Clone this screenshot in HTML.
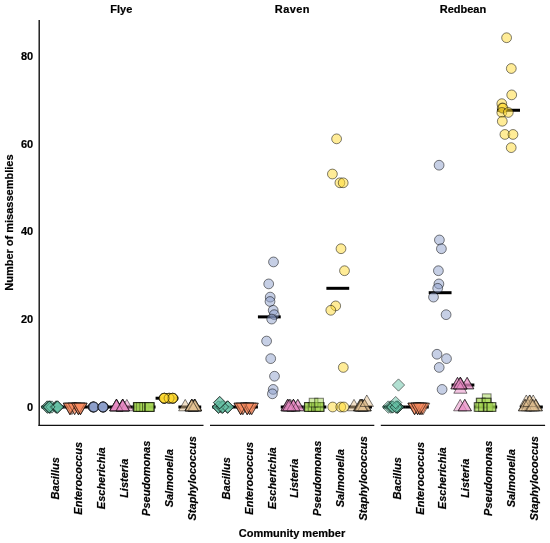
<!DOCTYPE html>
<html><head><meta charset="utf-8"><style>
html,body{margin:0;padding:0;background:#fff;}
svg{display:block;filter:blur(0.3px);}
text{font-family:"Liberation Sans",sans-serif;font-weight:bold;fill:#000;font-kerning:none;stroke:#000;stroke-width:0.2px;}
.yt{font-size:11px;}
.st{font-size:11px;}
.tt{font-size:11px;}
.xt{font-size:11px;font-style:italic;}
</style></head><body>
<svg width="550" height="543" viewBox="0 0 550 543">
<rect width="550" height="543" fill="#fff"/>
<line x1="39.20" y1="20.0" x2="39.20" y2="426.10" stroke="#111" stroke-width="1.4"/>
<line x1="38.50" y1="425.4" x2="203.50" y2="425.4" stroke="#111" stroke-width="1.4"/>
<line x1="210.00" y1="425.4" x2="374.30" y2="425.4" stroke="#111" stroke-width="1.4"/>
<line x1="380.80" y1="425.4" x2="545.10" y2="425.4" stroke="#111" stroke-width="1.4"/>
<text x="33.2" y="411.30" text-anchor="end" class="yt">0</text>
<text x="33.2" y="323.38" text-anchor="end" class="yt">20</text>
<text x="33.2" y="235.46" text-anchor="end" class="yt">40</text>
<text x="33.2" y="147.54" text-anchor="end" class="yt">60</text>
<text x="33.2" y="59.62" text-anchor="end" class="yt">80</text>
<text x="121.35" y="13.2" text-anchor="middle" class="st">Flye</text>
<text x="292.35" y="13.2" text-anchor="middle" class="st" letter-spacing="0.4">Raven</text>
<text x="462.95" y="13.2" text-anchor="middle" class="st">Redbean</text>
<text transform="translate(12.9,222.6) rotate(-90)" text-anchor="middle" class="tt">Number of misassemblies</text>
<text x="292" y="536.7" text-anchor="middle" class="tt">Community member</text>
<text transform="translate(59.09,478.3) rotate(-90)" text-anchor="middle" class="xt">Bacillus</text>
<text transform="translate(81.91,478.3) rotate(-90)" text-anchor="middle" class="xt">Enterococcus</text>
<text transform="translate(104.73,478.3) rotate(-90)" text-anchor="middle" class="xt">Escherichia</text>
<text transform="translate(127.55,478.3) rotate(-90)" text-anchor="middle" class="xt">Listeria</text>
<text transform="translate(150.37,478.3) rotate(-90)" text-anchor="middle" class="xt">Pseudomonas</text>
<text transform="translate(173.19,478.3) rotate(-90)" text-anchor="middle" class="xt">Salmonella</text>
<text transform="translate(196.01,478.3) rotate(-90)" text-anchor="middle" class="xt">Staphylococcus</text>
<text transform="translate(229.89,478.3) rotate(-90)" text-anchor="middle" class="xt">Bacillus</text>
<text transform="translate(252.71,478.3) rotate(-90)" text-anchor="middle" class="xt">Enterococcus</text>
<text transform="translate(275.53,478.3) rotate(-90)" text-anchor="middle" class="xt">Escherichia</text>
<text transform="translate(298.35,478.3) rotate(-90)" text-anchor="middle" class="xt">Listeria</text>
<text transform="translate(321.17,478.3) rotate(-90)" text-anchor="middle" class="xt">Pseudomonas</text>
<text transform="translate(343.99,478.3) rotate(-90)" text-anchor="middle" class="xt">Salmonella</text>
<text transform="translate(366.81,478.3) rotate(-90)" text-anchor="middle" class="xt">Staphylococcus</text>
<text transform="translate(400.69,478.3) rotate(-90)" text-anchor="middle" class="xt">Bacillus</text>
<text transform="translate(423.51,478.3) rotate(-90)" text-anchor="middle" class="xt">Enterococcus</text>
<text transform="translate(446.33,478.3) rotate(-90)" text-anchor="middle" class="xt">Escherichia</text>
<text transform="translate(469.15,478.3) rotate(-90)" text-anchor="middle" class="xt">Listeria</text>
<text transform="translate(491.97,478.3) rotate(-90)" text-anchor="middle" class="xt">Pseudomonas</text>
<text transform="translate(514.79,478.3) rotate(-90)" text-anchor="middle" class="xt">Salmonella</text>
<text transform="translate(537.61,478.3) rotate(-90)" text-anchor="middle" class="xt">Staphylococcus</text>
<line x1="41.48" y1="407.00" x2="64.30" y2="407.00" stroke="#000" stroke-width="3"/>
<line x1="64.30" y1="407.00" x2="87.12" y2="407.00" stroke="#000" stroke-width="3"/>
<line x1="87.12" y1="407.00" x2="109.94" y2="407.00" stroke="#000" stroke-width="3"/>
<line x1="109.94" y1="407.00" x2="132.76" y2="407.00" stroke="#000" stroke-width="3"/>
<line x1="132.76" y1="407.00" x2="155.58" y2="407.00" stroke="#000" stroke-width="3"/>
<line x1="155.58" y1="398.21" x2="178.40" y2="398.21" stroke="#000" stroke-width="3"/>
<line x1="178.40" y1="407.00" x2="201.22" y2="407.00" stroke="#000" stroke-width="3"/>
<line x1="212.28" y1="407.00" x2="235.10" y2="407.00" stroke="#000" stroke-width="3"/>
<line x1="235.10" y1="407.00" x2="257.92" y2="407.00" stroke="#000" stroke-width="3"/>
<line x1="257.92" y1="316.88" x2="280.74" y2="316.88" stroke="#000" stroke-width="3"/>
<line x1="280.74" y1="407.00" x2="303.56" y2="407.00" stroke="#000" stroke-width="3"/>
<line x1="303.56" y1="407.00" x2="326.38" y2="407.00" stroke="#000" stroke-width="3"/>
<line x1="326.38" y1="288.31" x2="349.20" y2="288.31" stroke="#000" stroke-width="3"/>
<line x1="349.20" y1="407.00" x2="372.02" y2="407.00" stroke="#000" stroke-width="3"/>
<line x1="383.08" y1="407.00" x2="405.90" y2="407.00" stroke="#000" stroke-width="3"/>
<line x1="405.90" y1="407.00" x2="428.72" y2="407.00" stroke="#000" stroke-width="3"/>
<line x1="428.72" y1="292.70" x2="451.54" y2="292.70" stroke="#000" stroke-width="3"/>
<line x1="451.54" y1="385.02" x2="474.36" y2="385.02" stroke="#000" stroke-width="3"/>
<line x1="474.36" y1="407.00" x2="497.18" y2="407.00" stroke="#000" stroke-width="3"/>
<line x1="497.18" y1="110.27" x2="520.00" y2="110.27" stroke="#000" stroke-width="3"/>
<line x1="520.00" y1="407.00" x2="542.82" y2="407.00" stroke="#000" stroke-width="3"/>
<polygon points="47.09,400.86 53.23,407.00 47.09,413.14 40.95,407.00" fill="#66C2A5" fill-opacity="0.5" stroke="#000" stroke-opacity="0.5" stroke-width="1.0"/>
<polygon points="47.59,400.86 53.73,407.00 47.59,413.14 41.45,407.00" fill="#66C2A5" fill-opacity="0.5" stroke="#000" stroke-opacity="0.5" stroke-width="1.0"/>
<polygon points="49.29,400.86 55.43,407.00 49.29,413.14 43.15,407.00" fill="#66C2A5" fill-opacity="0.5" stroke="#000" stroke-opacity="0.5" stroke-width="1.0"/>
<polygon points="49.69,400.86 55.83,407.00 49.69,413.14 43.55,407.00" fill="#66C2A5" fill-opacity="0.5" stroke="#000" stroke-opacity="0.5" stroke-width="1.0"/>
<polygon points="50.19,400.86 56.33,407.00 50.19,413.14 44.05,407.00" fill="#66C2A5" fill-opacity="0.5" stroke="#000" stroke-opacity="0.5" stroke-width="1.0"/>
<polygon points="51.99,400.86 58.13,407.00 51.99,413.14 45.85,407.00" fill="#66C2A5" fill-opacity="0.5" stroke="#000" stroke-opacity="0.5" stroke-width="1.0"/>
<polygon points="55.89,400.86 62.03,407.00 55.89,413.14 49.75,407.00" fill="#66C2A5" fill-opacity="0.5" stroke="#000" stroke-opacity="0.5" stroke-width="1.0"/>
<polygon points="56.49,400.86 62.63,407.00 56.49,413.14 50.35,407.00" fill="#66C2A5" fill-opacity="0.5" stroke="#000" stroke-opacity="0.5" stroke-width="1.0"/>
<polygon points="56.99,400.86 63.13,407.00 56.99,413.14 50.85,407.00" fill="#66C2A5" fill-opacity="0.5" stroke="#000" stroke-opacity="0.5" stroke-width="1.0"/>
<polygon points="57.79,400.86 63.93,407.00 57.79,413.14 51.65,407.00" fill="#66C2A5" fill-opacity="0.5" stroke="#000" stroke-opacity="0.5" stroke-width="1.0"/>
<polygon points="57.49,400.86 63.63,407.00 57.49,413.14 51.35,407.00" fill="#66C2A5" fill-opacity="0.5" stroke="#000" stroke-opacity="0.5" stroke-width="1.0"/>
<polygon points="48.99,400.86 55.13,407.00 48.99,413.14 42.85,407.00" fill="#66C2A5" fill-opacity="0.5" stroke="#000" stroke-opacity="0.5" stroke-width="1.0"/>
<polygon points="69.81,414.62 76.41,403.19 63.21,403.19" fill="#FC8D62" fill-opacity="0.5" stroke="#000" stroke-opacity="0.5" stroke-width="1.0"/>
<polygon points="70.11,414.62 76.71,403.19 63.51,403.19" fill="#FC8D62" fill-opacity="0.5" stroke="#000" stroke-opacity="0.5" stroke-width="1.0"/>
<polygon points="71.91,414.62 78.51,403.19 65.31,403.19" fill="#FC8D62" fill-opacity="0.5" stroke="#000" stroke-opacity="0.5" stroke-width="1.0"/>
<polygon points="74.51,414.62 81.11,403.19 67.91,403.19" fill="#FC8D62" fill-opacity="0.5" stroke="#000" stroke-opacity="0.5" stroke-width="1.0"/>
<polygon points="74.71,414.62 81.31,403.19 68.11,403.19" fill="#FC8D62" fill-opacity="0.5" stroke="#000" stroke-opacity="0.5" stroke-width="1.0"/>
<polygon points="78.21,414.62 84.81,403.19 71.61,403.19" fill="#FC8D62" fill-opacity="0.5" stroke="#000" stroke-opacity="0.5" stroke-width="1.0"/>
<polygon points="78.51,414.62 85.11,403.19 71.91,403.19" fill="#FC8D62" fill-opacity="0.5" stroke="#000" stroke-opacity="0.5" stroke-width="1.0"/>
<polygon points="80.31,414.62 86.91,403.19 73.71,403.19" fill="#FC8D62" fill-opacity="0.5" stroke="#000" stroke-opacity="0.5" stroke-width="1.0"/>
<polygon points="80.61,414.62 87.21,403.19 74.01,403.19" fill="#FC8D62" fill-opacity="0.5" stroke="#000" stroke-opacity="0.5" stroke-width="1.0"/>
<polygon points="70.01,414.62 76.61,403.19 63.41,403.19" fill="#FC8D62" fill-opacity="0.5" stroke="#000" stroke-opacity="0.5" stroke-width="1.0"/>
<polygon points="78.41,414.62 85.01,403.19 71.81,403.19" fill="#FC8D62" fill-opacity="0.5" stroke="#000" stroke-opacity="0.5" stroke-width="1.0"/>
<polygon points="80.41,414.62 87.01,403.19 73.81,403.19" fill="#FC8D62" fill-opacity="0.5" stroke="#000" stroke-opacity="0.5" stroke-width="1.0"/>
<circle cx="93.03" cy="407.00" r="4.90" fill="#8DA0CB" fill-opacity="0.5" stroke="#000" stroke-opacity="0.5" stroke-width="1.0"/>
<circle cx="93.33" cy="407.00" r="4.90" fill="#8DA0CB" fill-opacity="0.5" stroke="#000" stroke-opacity="0.5" stroke-width="1.0"/>
<circle cx="93.53" cy="407.00" r="4.90" fill="#8DA0CB" fill-opacity="0.5" stroke="#000" stroke-opacity="0.5" stroke-width="1.0"/>
<circle cx="93.73" cy="407.00" r="4.90" fill="#8DA0CB" fill-opacity="0.5" stroke="#000" stroke-opacity="0.5" stroke-width="1.0"/>
<circle cx="93.23" cy="407.00" r="4.90" fill="#8DA0CB" fill-opacity="0.5" stroke="#000" stroke-opacity="0.5" stroke-width="1.0"/>
<circle cx="93.93" cy="407.00" r="4.90" fill="#8DA0CB" fill-opacity="0.5" stroke="#000" stroke-opacity="0.5" stroke-width="1.0"/>
<circle cx="103.23" cy="407.00" r="4.90" fill="#8DA0CB" fill-opacity="0.5" stroke="#000" stroke-opacity="0.5" stroke-width="1.0"/>
<circle cx="103.03" cy="407.00" r="4.90" fill="#8DA0CB" fill-opacity="0.5" stroke="#000" stroke-opacity="0.5" stroke-width="1.0"/>
<circle cx="102.83" cy="407.00" r="4.90" fill="#8DA0CB" fill-opacity="0.5" stroke="#000" stroke-opacity="0.5" stroke-width="1.0"/>
<circle cx="103.43" cy="407.00" r="4.90" fill="#8DA0CB" fill-opacity="0.5" stroke="#000" stroke-opacity="0.5" stroke-width="1.0"/>
<circle cx="103.13" cy="407.00" r="4.90" fill="#8DA0CB" fill-opacity="0.5" stroke="#000" stroke-opacity="0.5" stroke-width="1.0"/>
<circle cx="102.93" cy="407.00" r="4.90" fill="#8DA0CB" fill-opacity="0.5" stroke="#000" stroke-opacity="0.5" stroke-width="1.0"/>
<polygon points="116.25,399.38 122.85,410.81 109.65,410.81" fill="#E78AC3" fill-opacity="0.5" stroke="#000" stroke-opacity="0.5" stroke-width="1.0"/>
<polygon points="116.55,399.38 123.15,410.81 109.95,410.81" fill="#E78AC3" fill-opacity="0.5" stroke="#000" stroke-opacity="0.5" stroke-width="1.0"/>
<polygon points="116.75,399.38 123.35,410.81 110.15,410.81" fill="#E78AC3" fill-opacity="0.5" stroke="#000" stroke-opacity="0.5" stroke-width="1.0"/>
<polygon points="122.55,399.38 129.15,410.81 115.95,410.81" fill="#E78AC3" fill-opacity="0.5" stroke="#000" stroke-opacity="0.5" stroke-width="1.0"/>
<polygon points="122.75,399.38 129.35,410.81 116.15,410.81" fill="#E78AC3" fill-opacity="0.5" stroke="#000" stroke-opacity="0.5" stroke-width="1.0"/>
<polygon points="122.95,399.38 129.55,410.81 116.35,410.81" fill="#E78AC3" fill-opacity="0.5" stroke="#000" stroke-opacity="0.5" stroke-width="1.0"/>
<polygon points="122.35,399.38 128.95,410.81 115.75,410.81" fill="#E78AC3" fill-opacity="0.5" stroke="#000" stroke-opacity="0.5" stroke-width="1.0"/>
<polygon points="126.85,399.38 133.45,410.81 120.25,410.81" fill="#E78AC3" fill-opacity="0.5" stroke="#000" stroke-opacity="0.5" stroke-width="1.0"/>
<polygon points="116.45,399.38 123.05,410.81 109.85,410.81" fill="#E78AC3" fill-opacity="0.5" stroke="#000" stroke-opacity="0.5" stroke-width="1.0"/>
<polygon points="122.65,399.38 129.25,410.81 116.05,410.81" fill="#E78AC3" fill-opacity="0.5" stroke="#000" stroke-opacity="0.5" stroke-width="1.0"/>
<polygon points="116.35,399.38 122.95,410.81 109.75,410.81" fill="#E78AC3" fill-opacity="0.5" stroke="#000" stroke-opacity="0.5" stroke-width="1.0"/>
<polygon points="122.85,399.38 129.45,410.81 116.25,410.81" fill="#E78AC3" fill-opacity="0.5" stroke="#000" stroke-opacity="0.5" stroke-width="1.0"/>
<rect x="133.33" y="402.66" width="8.69" height="8.69" fill="#A6D854" fill-opacity="0.5" stroke="#000" stroke-opacity="0.5" stroke-width="1.0"/>
<rect x="133.63" y="402.66" width="8.69" height="8.69" fill="#A6D854" fill-opacity="0.5" stroke="#000" stroke-opacity="0.5" stroke-width="1.0"/>
<rect x="134.03" y="402.66" width="8.69" height="8.69" fill="#A6D854" fill-opacity="0.5" stroke="#000" stroke-opacity="0.5" stroke-width="1.0"/>
<rect x="136.33" y="402.66" width="8.69" height="8.69" fill="#A6D854" fill-opacity="0.5" stroke="#000" stroke-opacity="0.5" stroke-width="1.0"/>
<rect x="136.63" y="402.66" width="8.69" height="8.69" fill="#A6D854" fill-opacity="0.5" stroke="#000" stroke-opacity="0.5" stroke-width="1.0"/>
<rect x="139.33" y="402.66" width="8.69" height="8.69" fill="#A6D854" fill-opacity="0.5" stroke="#000" stroke-opacity="0.5" stroke-width="1.0"/>
<rect x="140.03" y="402.66" width="8.69" height="8.69" fill="#A6D854" fill-opacity="0.5" stroke="#000" stroke-opacity="0.5" stroke-width="1.0"/>
<rect x="145.63" y="402.66" width="8.69" height="8.69" fill="#A6D854" fill-opacity="0.5" stroke="#000" stroke-opacity="0.5" stroke-width="1.0"/>
<rect x="145.03" y="402.66" width="8.69" height="8.69" fill="#A6D854" fill-opacity="0.5" stroke="#000" stroke-opacity="0.5" stroke-width="1.0"/>
<rect x="144.73" y="402.66" width="8.69" height="8.69" fill="#A6D854" fill-opacity="0.5" stroke="#000" stroke-opacity="0.5" stroke-width="1.0"/>
<rect x="145.33" y="402.66" width="8.69" height="8.69" fill="#A6D854" fill-opacity="0.5" stroke="#000" stroke-opacity="0.5" stroke-width="1.0"/>
<rect x="133.83" y="402.66" width="8.69" height="8.69" fill="#A6D854" fill-opacity="0.5" stroke="#000" stroke-opacity="0.5" stroke-width="1.0"/>
<circle cx="164.19" cy="398.21" r="4.90" fill="#FFD92F" fill-opacity="0.5" stroke="#000" stroke-opacity="0.5" stroke-width="1.0"/>
<circle cx="164.49" cy="398.21" r="4.90" fill="#FFD92F" fill-opacity="0.5" stroke="#000" stroke-opacity="0.5" stroke-width="1.0"/>
<circle cx="164.29" cy="398.21" r="4.90" fill="#FFD92F" fill-opacity="0.5" stroke="#000" stroke-opacity="0.5" stroke-width="1.0"/>
<circle cx="169.29" cy="398.21" r="4.90" fill="#FFD92F" fill-opacity="0.5" stroke="#000" stroke-opacity="0.5" stroke-width="1.0"/>
<circle cx="168.99" cy="398.21" r="4.90" fill="#FFD92F" fill-opacity="0.5" stroke="#000" stroke-opacity="0.5" stroke-width="1.0"/>
<circle cx="172.89" cy="398.21" r="4.90" fill="#FFD92F" fill-opacity="0.5" stroke="#000" stroke-opacity="0.5" stroke-width="1.0"/>
<circle cx="172.59" cy="398.21" r="4.90" fill="#FFD92F" fill-opacity="0.5" stroke="#000" stroke-opacity="0.5" stroke-width="1.0"/>
<circle cx="172.79" cy="398.21" r="4.90" fill="#FFD92F" fill-opacity="0.5" stroke="#000" stroke-opacity="0.5" stroke-width="1.0"/>
<circle cx="164.39" cy="398.21" r="4.90" fill="#FFD92F" fill-opacity="0.5" stroke="#000" stroke-opacity="0.5" stroke-width="1.0"/>
<circle cx="169.09" cy="398.21" r="4.90" fill="#FFD92F" fill-opacity="0.5" stroke="#000" stroke-opacity="0.5" stroke-width="1.0"/>
<circle cx="172.69" cy="398.21" r="4.90" fill="#FFD92F" fill-opacity="0.5" stroke="#000" stroke-opacity="0.5" stroke-width="1.0"/>
<circle cx="164.09" cy="398.21" r="4.90" fill="#FFD92F" fill-opacity="0.5" stroke="#000" stroke-opacity="0.5" stroke-width="1.0"/>
<polygon points="185.21,399.38 191.81,410.81 178.61,410.81" fill="#E5C494" fill-opacity="0.5" stroke="#000" stroke-opacity="0.5" stroke-width="1.0"/>
<polygon points="191.71,399.38 198.31,410.81 185.11,410.81" fill="#E5C494" fill-opacity="0.5" stroke="#000" stroke-opacity="0.5" stroke-width="1.0"/>
<polygon points="192.01,399.38 198.61,410.81 185.41,410.81" fill="#E5C494" fill-opacity="0.5" stroke="#000" stroke-opacity="0.5" stroke-width="1.0"/>
<polygon points="194.21,399.38 200.81,410.81 187.61,410.81" fill="#E5C494" fill-opacity="0.5" stroke="#000" stroke-opacity="0.5" stroke-width="1.0"/>
<polygon points="195.11,399.38 201.71,410.81 188.51,410.81" fill="#E5C494" fill-opacity="0.5" stroke="#000" stroke-opacity="0.5" stroke-width="1.0"/>
<polygon points="194.61,399.38 201.21,410.81 188.01,410.81" fill="#E5C494" fill-opacity="0.5" stroke="#000" stroke-opacity="0.5" stroke-width="1.0"/>
<polygon points="194.81,399.38 201.41,410.81 188.21,410.81" fill="#E5C494" fill-opacity="0.5" stroke="#000" stroke-opacity="0.5" stroke-width="1.0"/>
<polygon points="191.51,399.38 198.11,410.81 184.91,410.81" fill="#E5C494" fill-opacity="0.5" stroke="#000" stroke-opacity="0.5" stroke-width="1.0"/>
<polygon points="191.81,399.38 198.41,410.81 185.21,410.81" fill="#E5C494" fill-opacity="0.5" stroke="#000" stroke-opacity="0.5" stroke-width="1.0"/>
<polygon points="194.41,399.38 201.01,410.81 187.81,410.81" fill="#E5C494" fill-opacity="0.5" stroke="#000" stroke-opacity="0.5" stroke-width="1.0"/>
<polygon points="195.01,399.38 201.61,410.81 188.41,410.81" fill="#E5C494" fill-opacity="0.5" stroke="#000" stroke-opacity="0.5" stroke-width="1.0"/>
<polygon points="191.91,399.38 198.51,410.81 185.31,410.81" fill="#E5C494" fill-opacity="0.5" stroke="#000" stroke-opacity="0.5" stroke-width="1.0"/>
<polygon points="218.29,400.86 224.43,407.00 218.29,413.14 212.15,407.00" fill="#66C2A5" fill-opacity="0.5" stroke="#000" stroke-opacity="0.5" stroke-width="1.0"/>
<polygon points="218.69,400.86 224.83,407.00 218.69,413.14 212.55,407.00" fill="#66C2A5" fill-opacity="0.5" stroke="#000" stroke-opacity="0.5" stroke-width="1.0"/>
<polygon points="221.19,400.86 227.33,407.00 221.19,413.14 215.05,407.00" fill="#66C2A5" fill-opacity="0.5" stroke="#000" stroke-opacity="0.5" stroke-width="1.0"/>
<polygon points="222.69,400.86 228.83,407.00 222.69,413.14 216.55,407.00" fill="#66C2A5" fill-opacity="0.5" stroke="#000" stroke-opacity="0.5" stroke-width="1.0"/>
<polygon points="222.89,400.86 229.03,407.00 222.89,413.14 216.75,407.00" fill="#66C2A5" fill-opacity="0.5" stroke="#000" stroke-opacity="0.5" stroke-width="1.0"/>
<polygon points="227.59,400.86 233.73,407.00 227.59,413.14 221.45,407.00" fill="#66C2A5" fill-opacity="0.5" stroke="#000" stroke-opacity="0.5" stroke-width="1.0"/>
<polygon points="227.29,400.86 233.43,407.00 227.29,413.14 221.15,407.00" fill="#66C2A5" fill-opacity="0.5" stroke="#000" stroke-opacity="0.5" stroke-width="1.0"/>
<polygon points="227.89,400.86 234.03,407.00 227.89,413.14 221.75,407.00" fill="#66C2A5" fill-opacity="0.5" stroke="#000" stroke-opacity="0.5" stroke-width="1.0"/>
<polygon points="218.49,400.86 224.63,407.00 218.49,413.14 212.35,407.00" fill="#66C2A5" fill-opacity="0.5" stroke="#000" stroke-opacity="0.5" stroke-width="1.0"/>
<polygon points="222.49,400.86 228.63,407.00 222.49,413.14 216.35,407.00" fill="#66C2A5" fill-opacity="0.5" stroke="#000" stroke-opacity="0.5" stroke-width="1.0"/>
<polygon points="219.49,396.46 225.63,402.60 219.49,408.75 213.35,402.60" fill="#66C2A5" fill-opacity="0.5" stroke="#000" stroke-opacity="0.5" stroke-width="1.0"/>
<polygon points="219.89,396.46 226.03,402.60 219.89,408.75 213.75,402.60" fill="#66C2A5" fill-opacity="0.5" stroke="#000" stroke-opacity="0.5" stroke-width="1.0"/>
<polygon points="240.51,414.62 247.11,403.19 233.91,403.19" fill="#FC8D62" fill-opacity="0.5" stroke="#000" stroke-opacity="0.5" stroke-width="1.0"/>
<polygon points="240.81,414.62 247.41,403.19 234.21,403.19" fill="#FC8D62" fill-opacity="0.5" stroke="#000" stroke-opacity="0.5" stroke-width="1.0"/>
<polygon points="242.71,414.62 249.31,403.19 236.11,403.19" fill="#FC8D62" fill-opacity="0.5" stroke="#000" stroke-opacity="0.5" stroke-width="1.0"/>
<polygon points="243.01,414.62 249.61,403.19 236.41,403.19" fill="#FC8D62" fill-opacity="0.5" stroke="#000" stroke-opacity="0.5" stroke-width="1.0"/>
<polygon points="247.11,414.62 253.71,403.19 240.51,403.19" fill="#FC8D62" fill-opacity="0.5" stroke="#000" stroke-opacity="0.5" stroke-width="1.0"/>
<polygon points="247.31,414.62 253.91,403.19 240.71,403.19" fill="#FC8D62" fill-opacity="0.5" stroke="#000" stroke-opacity="0.5" stroke-width="1.0"/>
<polygon points="249.61,414.62 256.21,403.19 243.01,403.19" fill="#FC8D62" fill-opacity="0.5" stroke="#000" stroke-opacity="0.5" stroke-width="1.0"/>
<polygon points="249.81,414.62 256.41,403.19 243.21,403.19" fill="#FC8D62" fill-opacity="0.5" stroke="#000" stroke-opacity="0.5" stroke-width="1.0"/>
<polygon points="251.81,414.62 258.41,403.19 245.21,403.19" fill="#FC8D62" fill-opacity="0.5" stroke="#000" stroke-opacity="0.5" stroke-width="1.0"/>
<polygon points="251.51,414.62 258.11,403.19 244.91,403.19" fill="#FC8D62" fill-opacity="0.5" stroke="#000" stroke-opacity="0.5" stroke-width="1.0"/>
<polygon points="240.71,414.62 247.31,403.19 234.11,403.19" fill="#FC8D62" fill-opacity="0.5" stroke="#000" stroke-opacity="0.5" stroke-width="1.0"/>
<polygon points="247.21,414.62 253.81,403.19 240.61,403.19" fill="#FC8D62" fill-opacity="0.5" stroke="#000" stroke-opacity="0.5" stroke-width="1.0"/>
<circle cx="273.50" cy="261.93" r="4.90" fill="#8DA0CB" fill-opacity="0.5" stroke="#000" stroke-opacity="0.5" stroke-width="1.0"/>
<circle cx="268.70" cy="283.91" r="4.90" fill="#8DA0CB" fill-opacity="0.5" stroke="#000" stroke-opacity="0.5" stroke-width="1.0"/>
<circle cx="270.20" cy="297.10" r="4.90" fill="#8DA0CB" fill-opacity="0.5" stroke="#000" stroke-opacity="0.5" stroke-width="1.0"/>
<circle cx="270.00" cy="301.50" r="4.90" fill="#8DA0CB" fill-opacity="0.5" stroke="#000" stroke-opacity="0.5" stroke-width="1.0"/>
<circle cx="273.20" cy="310.29" r="4.90" fill="#8DA0CB" fill-opacity="0.5" stroke="#000" stroke-opacity="0.5" stroke-width="1.0"/>
<circle cx="274.30" cy="314.68" r="4.90" fill="#8DA0CB" fill-opacity="0.5" stroke="#000" stroke-opacity="0.5" stroke-width="1.0"/>
<circle cx="271.70" cy="319.08" r="4.90" fill="#8DA0CB" fill-opacity="0.5" stroke="#000" stroke-opacity="0.5" stroke-width="1.0"/>
<circle cx="266.60" cy="341.06" r="4.90" fill="#8DA0CB" fill-opacity="0.5" stroke="#000" stroke-opacity="0.5" stroke-width="1.0"/>
<circle cx="270.70" cy="358.64" r="4.90" fill="#8DA0CB" fill-opacity="0.5" stroke="#000" stroke-opacity="0.5" stroke-width="1.0"/>
<circle cx="274.50" cy="376.23" r="4.90" fill="#8DA0CB" fill-opacity="0.5" stroke="#000" stroke-opacity="0.5" stroke-width="1.0"/>
<circle cx="273.20" cy="389.42" r="4.90" fill="#8DA0CB" fill-opacity="0.5" stroke="#000" stroke-opacity="0.5" stroke-width="1.0"/>
<circle cx="272.40" cy="393.81" r="4.90" fill="#8DA0CB" fill-opacity="0.5" stroke="#000" stroke-opacity="0.5" stroke-width="1.0"/>
<polygon points="287.45,399.38 294.05,410.81 280.85,410.81" fill="#E78AC3" fill-opacity="0.5" stroke="#000" stroke-opacity="0.5" stroke-width="1.0"/>
<polygon points="287.95,399.38 294.55,410.81 281.35,410.81" fill="#E78AC3" fill-opacity="0.5" stroke="#000" stroke-opacity="0.5" stroke-width="1.0"/>
<polygon points="289.15,399.38 295.75,410.81 282.55,410.81" fill="#E78AC3" fill-opacity="0.5" stroke="#000" stroke-opacity="0.5" stroke-width="1.0"/>
<polygon points="290.65,399.38 297.25,410.81 284.05,410.81" fill="#E78AC3" fill-opacity="0.5" stroke="#000" stroke-opacity="0.5" stroke-width="1.0"/>
<polygon points="293.45,399.38 300.05,410.81 286.85,410.81" fill="#E78AC3" fill-opacity="0.5" stroke="#000" stroke-opacity="0.5" stroke-width="1.0"/>
<polygon points="293.55,399.38 300.15,410.81 286.95,410.81" fill="#E78AC3" fill-opacity="0.5" stroke="#000" stroke-opacity="0.5" stroke-width="1.0"/>
<polygon points="293.35,399.38 299.95,410.81 286.75,410.81" fill="#E78AC3" fill-opacity="0.5" stroke="#000" stroke-opacity="0.5" stroke-width="1.0"/>
<polygon points="297.95,399.38 304.55,410.81 291.35,410.81" fill="#E78AC3" fill-opacity="0.5" stroke="#000" stroke-opacity="0.5" stroke-width="1.0"/>
<polygon points="297.65,399.38 304.25,410.81 291.05,410.81" fill="#E78AC3" fill-opacity="0.5" stroke="#000" stroke-opacity="0.5" stroke-width="1.0"/>
<polygon points="287.65,399.38 294.25,410.81 281.05,410.81" fill="#E78AC3" fill-opacity="0.5" stroke="#000" stroke-opacity="0.5" stroke-width="1.0"/>
<polygon points="293.45,399.38 300.05,410.81 286.85,410.81" fill="#E78AC3" fill-opacity="0.5" stroke="#000" stroke-opacity="0.5" stroke-width="1.0"/>
<polygon points="289.35,399.38 295.95,410.81 282.75,410.81" fill="#E78AC3" fill-opacity="0.5" stroke="#000" stroke-opacity="0.5" stroke-width="1.0"/>
<rect x="304.43" y="402.66" width="8.69" height="8.69" fill="#A6D854" fill-opacity="0.5" stroke="#000" stroke-opacity="0.5" stroke-width="1.0"/>
<rect x="304.73" y="402.66" width="8.69" height="8.69" fill="#A6D854" fill-opacity="0.5" stroke="#000" stroke-opacity="0.5" stroke-width="1.0"/>
<rect x="308.13" y="402.66" width="8.69" height="8.69" fill="#A6D854" fill-opacity="0.5" stroke="#000" stroke-opacity="0.5" stroke-width="1.0"/>
<rect x="308.43" y="402.66" width="8.69" height="8.69" fill="#A6D854" fill-opacity="0.5" stroke="#000" stroke-opacity="0.5" stroke-width="1.0"/>
<rect x="311.83" y="402.66" width="8.69" height="8.69" fill="#A6D854" fill-opacity="0.5" stroke="#000" stroke-opacity="0.5" stroke-width="1.0"/>
<rect x="315.33" y="402.66" width="8.69" height="8.69" fill="#A6D854" fill-opacity="0.5" stroke="#000" stroke-opacity="0.5" stroke-width="1.0"/>
<rect x="315.03" y="402.66" width="8.69" height="8.69" fill="#A6D854" fill-opacity="0.5" stroke="#000" stroke-opacity="0.5" stroke-width="1.0"/>
<rect x="304.63" y="402.66" width="8.69" height="8.69" fill="#A6D854" fill-opacity="0.5" stroke="#000" stroke-opacity="0.5" stroke-width="1.0"/>
<rect x="311.63" y="402.66" width="8.69" height="8.69" fill="#A6D854" fill-opacity="0.5" stroke="#000" stroke-opacity="0.5" stroke-width="1.0"/>
<rect x="315.13" y="402.66" width="8.69" height="8.69" fill="#A6D854" fill-opacity="0.5" stroke="#000" stroke-opacity="0.5" stroke-width="1.0"/>
<rect x="309.23" y="398.26" width="8.69" height="8.69" fill="#A6D854" fill-opacity="0.5" stroke="#000" stroke-opacity="0.5" stroke-width="1.0"/>
<rect x="314.73" y="398.26" width="8.69" height="8.69" fill="#A6D854" fill-opacity="0.5" stroke="#000" stroke-opacity="0.5" stroke-width="1.0"/>
<circle cx="336.60" cy="138.84" r="4.90" fill="#FFD92F" fill-opacity="0.5" stroke="#000" stroke-opacity="0.5" stroke-width="1.0"/>
<circle cx="332.40" cy="174.01" r="4.90" fill="#FFD92F" fill-opacity="0.5" stroke="#000" stroke-opacity="0.5" stroke-width="1.0"/>
<circle cx="339.90" cy="182.80" r="4.90" fill="#FFD92F" fill-opacity="0.5" stroke="#000" stroke-opacity="0.5" stroke-width="1.0"/>
<circle cx="343.20" cy="182.80" r="4.90" fill="#FFD92F" fill-opacity="0.5" stroke="#000" stroke-opacity="0.5" stroke-width="1.0"/>
<circle cx="341.00" cy="248.74" r="4.90" fill="#FFD92F" fill-opacity="0.5" stroke="#000" stroke-opacity="0.5" stroke-width="1.0"/>
<circle cx="344.50" cy="270.72" r="4.90" fill="#FFD92F" fill-opacity="0.5" stroke="#000" stroke-opacity="0.5" stroke-width="1.0"/>
<circle cx="335.70" cy="305.89" r="4.90" fill="#FFD92F" fill-opacity="0.5" stroke="#000" stroke-opacity="0.5" stroke-width="1.0"/>
<circle cx="330.80" cy="310.29" r="4.90" fill="#FFD92F" fill-opacity="0.5" stroke="#000" stroke-opacity="0.5" stroke-width="1.0"/>
<circle cx="343.30" cy="367.44" r="4.90" fill="#FFD92F" fill-opacity="0.5" stroke="#000" stroke-opacity="0.5" stroke-width="1.0"/>
<circle cx="332.70" cy="407.00" r="4.90" fill="#FFD92F" fill-opacity="0.5" stroke="#000" stroke-opacity="0.5" stroke-width="1.0"/>
<circle cx="340.80" cy="407.00" r="4.90" fill="#FFD92F" fill-opacity="0.5" stroke="#000" stroke-opacity="0.5" stroke-width="1.0"/>
<circle cx="343.80" cy="407.00" r="4.90" fill="#FFD92F" fill-opacity="0.5" stroke="#000" stroke-opacity="0.5" stroke-width="1.0"/>
<polygon points="354.01,399.38 360.61,410.81 347.41,410.81" fill="#E5C494" fill-opacity="0.5" stroke="#000" stroke-opacity="0.5" stroke-width="1.0"/>
<polygon points="360.01,399.38 366.61,410.81 353.41,410.81" fill="#E5C494" fill-opacity="0.5" stroke="#000" stroke-opacity="0.5" stroke-width="1.0"/>
<polygon points="360.21,399.38 366.81,410.81 353.61,410.81" fill="#E5C494" fill-opacity="0.5" stroke="#000" stroke-opacity="0.5" stroke-width="1.0"/>
<polygon points="362.31,399.38 368.91,410.81 355.71,410.81" fill="#E5C494" fill-opacity="0.5" stroke="#000" stroke-opacity="0.5" stroke-width="1.0"/>
<polygon points="362.51,399.38 369.11,410.81 355.91,410.81" fill="#E5C494" fill-opacity="0.5" stroke="#000" stroke-opacity="0.5" stroke-width="1.0"/>
<polygon points="364.51,399.38 371.11,410.81 357.91,410.81" fill="#E5C494" fill-opacity="0.5" stroke="#000" stroke-opacity="0.5" stroke-width="1.0"/>
<polygon points="364.71,399.38 371.31,410.81 358.11,410.81" fill="#E5C494" fill-opacity="0.5" stroke="#000" stroke-opacity="0.5" stroke-width="1.0"/>
<polygon points="361.41,399.38 368.01,410.81 354.81,410.81" fill="#E5C494" fill-opacity="0.5" stroke="#000" stroke-opacity="0.5" stroke-width="1.0"/>
<polygon points="361.61,399.38 368.21,410.81 355.01,410.81" fill="#E5C494" fill-opacity="0.5" stroke="#000" stroke-opacity="0.5" stroke-width="1.0"/>
<polygon points="364.31,399.38 370.91,410.81 357.71,410.81" fill="#E5C494" fill-opacity="0.5" stroke="#000" stroke-opacity="0.5" stroke-width="1.0"/>
<polygon points="360.81,399.38 367.41,410.81 354.21,410.81" fill="#E5C494" fill-opacity="0.5" stroke="#000" stroke-opacity="0.5" stroke-width="1.0"/>
<polygon points="366.81,394.98 373.41,406.41 360.21,406.41" fill="#E5C494" fill-opacity="0.5" stroke="#000" stroke-opacity="0.5" stroke-width="1.0"/>
<polygon points="388.30,400.86 394.44,407.00 388.30,413.14 382.16,407.00" fill="#66C2A5" fill-opacity="0.5" stroke="#000" stroke-opacity="0.5" stroke-width="1.0"/>
<polygon points="390.50,400.86 396.64,407.00 390.50,413.14 384.36,407.00" fill="#66C2A5" fill-opacity="0.5" stroke="#000" stroke-opacity="0.5" stroke-width="1.0"/>
<polygon points="392.00,400.86 398.14,407.00 392.00,413.14 385.86,407.00" fill="#66C2A5" fill-opacity="0.5" stroke="#000" stroke-opacity="0.5" stroke-width="1.0"/>
<polygon points="397.70,400.86 403.84,407.00 397.70,413.14 391.56,407.00" fill="#66C2A5" fill-opacity="0.5" stroke="#000" stroke-opacity="0.5" stroke-width="1.0"/>
<polygon points="397.50,400.86 403.64,407.00 397.50,413.14 391.36,407.00" fill="#66C2A5" fill-opacity="0.5" stroke="#000" stroke-opacity="0.5" stroke-width="1.0"/>
<polygon points="397.00,400.86 403.14,407.00 397.00,413.14 390.86,407.00" fill="#66C2A5" fill-opacity="0.5" stroke="#000" stroke-opacity="0.5" stroke-width="1.0"/>
<polygon points="396.50,400.86 402.64,407.00 396.50,413.14 390.36,407.00" fill="#66C2A5" fill-opacity="0.5" stroke="#000" stroke-opacity="0.5" stroke-width="1.0"/>
<polygon points="397.80,400.86 403.94,407.00 397.80,413.14 391.66,407.00" fill="#66C2A5" fill-opacity="0.5" stroke="#000" stroke-opacity="0.5" stroke-width="1.0"/>
<polygon points="393.00,400.86 399.14,407.00 393.00,413.14 386.86,407.00" fill="#66C2A5" fill-opacity="0.5" stroke="#000" stroke-opacity="0.5" stroke-width="1.0"/>
<polygon points="396.00,400.86 402.14,407.00 396.00,413.14 389.86,407.00" fill="#66C2A5" fill-opacity="0.5" stroke="#000" stroke-opacity="0.5" stroke-width="1.0"/>
<polygon points="395.70,396.46 401.84,402.60 395.70,408.75 389.56,402.60" fill="#66C2A5" fill-opacity="0.5" stroke="#000" stroke-opacity="0.5" stroke-width="1.0"/>
<polygon points="398.50,378.88 404.64,385.02 398.50,391.16 392.36,385.02" fill="#66C2A5" fill-opacity="0.5" stroke="#000" stroke-opacity="0.5" stroke-width="1.0"/>
<polygon points="414.41,414.62 421.01,403.19 407.81,403.19" fill="#FC8D62" fill-opacity="0.5" stroke="#000" stroke-opacity="0.5" stroke-width="1.0"/>
<polygon points="414.71,414.62 421.31,403.19 408.11,403.19" fill="#FC8D62" fill-opacity="0.5" stroke="#000" stroke-opacity="0.5" stroke-width="1.0"/>
<polygon points="417.51,414.62 424.11,403.19 410.91,403.19" fill="#FC8D62" fill-opacity="0.5" stroke="#000" stroke-opacity="0.5" stroke-width="1.0"/>
<polygon points="417.71,414.62 424.31,403.19 411.11,403.19" fill="#FC8D62" fill-opacity="0.5" stroke="#000" stroke-opacity="0.5" stroke-width="1.0"/>
<polygon points="420.01,414.62 426.61,403.19 413.41,403.19" fill="#FC8D62" fill-opacity="0.5" stroke="#000" stroke-opacity="0.5" stroke-width="1.0"/>
<polygon points="419.81,414.62 426.41,403.19 413.21,403.19" fill="#FC8D62" fill-opacity="0.5" stroke="#000" stroke-opacity="0.5" stroke-width="1.0"/>
<polygon points="421.81,414.62 428.41,403.19 415.21,403.19" fill="#FC8D62" fill-opacity="0.5" stroke="#000" stroke-opacity="0.5" stroke-width="1.0"/>
<polygon points="422.01,414.62 428.61,403.19 415.41,403.19" fill="#FC8D62" fill-opacity="0.5" stroke="#000" stroke-opacity="0.5" stroke-width="1.0"/>
<polygon points="423.21,414.62 429.81,403.19 416.61,403.19" fill="#FC8D62" fill-opacity="0.5" stroke="#000" stroke-opacity="0.5" stroke-width="1.0"/>
<polygon points="414.61,414.62 421.21,403.19 408.01,403.19" fill="#FC8D62" fill-opacity="0.5" stroke="#000" stroke-opacity="0.5" stroke-width="1.0"/>
<polygon points="417.61,414.62 424.21,403.19 411.01,403.19" fill="#FC8D62" fill-opacity="0.5" stroke="#000" stroke-opacity="0.5" stroke-width="1.0"/>
<polygon points="419.91,414.62 426.51,403.19 413.31,403.19" fill="#FC8D62" fill-opacity="0.5" stroke="#000" stroke-opacity="0.5" stroke-width="1.0"/>
<circle cx="439.10" cy="165.22" r="4.90" fill="#8DA0CB" fill-opacity="0.5" stroke="#000" stroke-opacity="0.5" stroke-width="1.0"/>
<circle cx="439.40" cy="239.95" r="4.90" fill="#8DA0CB" fill-opacity="0.5" stroke="#000" stroke-opacity="0.5" stroke-width="1.0"/>
<circle cx="441.40" cy="248.74" r="4.90" fill="#8DA0CB" fill-opacity="0.5" stroke="#000" stroke-opacity="0.5" stroke-width="1.0"/>
<circle cx="438.40" cy="270.72" r="4.90" fill="#8DA0CB" fill-opacity="0.5" stroke="#000" stroke-opacity="0.5" stroke-width="1.0"/>
<circle cx="438.90" cy="283.91" r="4.90" fill="#8DA0CB" fill-opacity="0.5" stroke="#000" stroke-opacity="0.5" stroke-width="1.0"/>
<circle cx="437.70" cy="288.31" r="4.90" fill="#8DA0CB" fill-opacity="0.5" stroke="#000" stroke-opacity="0.5" stroke-width="1.0"/>
<circle cx="433.50" cy="297.10" r="4.90" fill="#8DA0CB" fill-opacity="0.5" stroke="#000" stroke-opacity="0.5" stroke-width="1.0"/>
<circle cx="446.10" cy="314.68" r="4.90" fill="#8DA0CB" fill-opacity="0.5" stroke="#000" stroke-opacity="0.5" stroke-width="1.0"/>
<circle cx="437.00" cy="354.25" r="4.90" fill="#8DA0CB" fill-opacity="0.5" stroke="#000" stroke-opacity="0.5" stroke-width="1.0"/>
<circle cx="446.50" cy="358.64" r="4.90" fill="#8DA0CB" fill-opacity="0.5" stroke="#000" stroke-opacity="0.5" stroke-width="1.0"/>
<circle cx="439.20" cy="367.44" r="4.90" fill="#8DA0CB" fill-opacity="0.5" stroke="#000" stroke-opacity="0.5" stroke-width="1.0"/>
<circle cx="442.10" cy="389.42" r="4.90" fill="#8DA0CB" fill-opacity="0.5" stroke="#000" stroke-opacity="0.5" stroke-width="1.0"/>
<polygon points="457.40,377.40 464.00,388.83 450.80,388.83" fill="#E78AC3" fill-opacity="0.5" stroke="#000" stroke-opacity="0.5" stroke-width="1.0"/>
<polygon points="460.40,377.40 467.00,388.83 453.80,388.83" fill="#E78AC3" fill-opacity="0.5" stroke="#000" stroke-opacity="0.5" stroke-width="1.0"/>
<polygon points="467.30,377.40 473.90,388.83 460.70,388.83" fill="#E78AC3" fill-opacity="0.5" stroke="#000" stroke-opacity="0.5" stroke-width="1.0"/>
<polygon points="460.40,377.40 467.00,388.83 453.80,388.83" fill="#E78AC3" fill-opacity="0.5" stroke="#000" stroke-opacity="0.5" stroke-width="1.0"/>
<polygon points="467.00,377.40 473.60,388.83 460.40,388.83" fill="#E78AC3" fill-opacity="0.5" stroke="#000" stroke-opacity="0.5" stroke-width="1.0"/>
<polygon points="460.60,377.40 467.20,388.83 454.00,388.83" fill="#E78AC3" fill-opacity="0.5" stroke="#000" stroke-opacity="0.5" stroke-width="1.0"/>
<polygon points="457.60,377.40 464.20,388.83 451.00,388.83" fill="#E78AC3" fill-opacity="0.5" stroke="#000" stroke-opacity="0.5" stroke-width="1.0"/>
<polygon points="460.40,381.80 467.00,393.23 453.80,393.23" fill="#E78AC3" fill-opacity="0.5" stroke="#000" stroke-opacity="0.5" stroke-width="1.0"/>
<polygon points="460.20,399.38 466.80,410.81 453.60,410.81" fill="#E78AC3" fill-opacity="0.5" stroke="#000" stroke-opacity="0.5" stroke-width="1.0"/>
<polygon points="464.90,399.38 471.50,410.81 458.30,410.81" fill="#E78AC3" fill-opacity="0.5" stroke="#000" stroke-opacity="0.5" stroke-width="1.0"/>
<polygon points="464.70,399.38 471.30,410.81 458.10,410.81" fill="#E78AC3" fill-opacity="0.5" stroke="#000" stroke-opacity="0.5" stroke-width="1.0"/>
<polygon points="460.00,377.40 466.60,388.83 453.40,388.83" fill="#E78AC3" fill-opacity="0.5" stroke="#000" stroke-opacity="0.5" stroke-width="1.0"/>
<rect x="482.36" y="393.87" width="8.69" height="8.69" fill="#A6D854" fill-opacity="0.5" stroke="#000" stroke-opacity="0.5" stroke-width="1.0"/>
<rect x="476.26" y="398.26" width="8.69" height="8.69" fill="#A6D854" fill-opacity="0.5" stroke="#000" stroke-opacity="0.5" stroke-width="1.0"/>
<rect x="476.66" y="398.26" width="8.69" height="8.69" fill="#A6D854" fill-opacity="0.5" stroke="#000" stroke-opacity="0.5" stroke-width="1.0"/>
<rect x="482.36" y="398.26" width="8.69" height="8.69" fill="#A6D854" fill-opacity="0.5" stroke="#000" stroke-opacity="0.5" stroke-width="1.0"/>
<rect x="482.06" y="398.26" width="8.69" height="8.69" fill="#A6D854" fill-opacity="0.5" stroke="#000" stroke-opacity="0.5" stroke-width="1.0"/>
<rect x="474.16" y="402.66" width="8.69" height="8.69" fill="#A6D854" fill-opacity="0.5" stroke="#000" stroke-opacity="0.5" stroke-width="1.0"/>
<rect x="474.86" y="402.66" width="8.69" height="8.69" fill="#A6D854" fill-opacity="0.5" stroke="#000" stroke-opacity="0.5" stroke-width="1.0"/>
<rect x="478.66" y="402.66" width="8.69" height="8.69" fill="#A6D854" fill-opacity="0.5" stroke="#000" stroke-opacity="0.5" stroke-width="1.0"/>
<rect x="483.46" y="402.66" width="8.69" height="8.69" fill="#A6D854" fill-opacity="0.5" stroke="#000" stroke-opacity="0.5" stroke-width="1.0"/>
<rect x="484.06" y="402.66" width="8.69" height="8.69" fill="#A6D854" fill-opacity="0.5" stroke="#000" stroke-opacity="0.5" stroke-width="1.0"/>
<rect x="487.26" y="402.66" width="8.69" height="8.69" fill="#A6D854" fill-opacity="0.5" stroke="#000" stroke-opacity="0.5" stroke-width="1.0"/>
<rect x="486.96" y="402.66" width="8.69" height="8.69" fill="#A6D854" fill-opacity="0.5" stroke="#000" stroke-opacity="0.5" stroke-width="1.0"/>
<circle cx="506.60" cy="37.74" r="4.90" fill="#FFD92F" fill-opacity="0.5" stroke="#000" stroke-opacity="0.5" stroke-width="1.0"/>
<circle cx="511.30" cy="68.51" r="4.90" fill="#FFD92F" fill-opacity="0.5" stroke="#000" stroke-opacity="0.5" stroke-width="1.0"/>
<circle cx="511.70" cy="94.88" r="4.90" fill="#FFD92F" fill-opacity="0.5" stroke="#000" stroke-opacity="0.5" stroke-width="1.0"/>
<circle cx="501.80" cy="103.68" r="4.90" fill="#FFD92F" fill-opacity="0.5" stroke="#000" stroke-opacity="0.5" stroke-width="1.0"/>
<circle cx="502.20" cy="108.07" r="4.90" fill="#FFD92F" fill-opacity="0.5" stroke="#000" stroke-opacity="0.5" stroke-width="1.0"/>
<circle cx="503.00" cy="108.07" r="4.90" fill="#FFD92F" fill-opacity="0.5" stroke="#000" stroke-opacity="0.5" stroke-width="1.0"/>
<circle cx="501.80" cy="112.47" r="4.90" fill="#FFD92F" fill-opacity="0.5" stroke="#000" stroke-opacity="0.5" stroke-width="1.0"/>
<circle cx="508.30" cy="112.47" r="4.90" fill="#FFD92F" fill-opacity="0.5" stroke="#000" stroke-opacity="0.5" stroke-width="1.0"/>
<circle cx="502.30" cy="121.26" r="4.90" fill="#FFD92F" fill-opacity="0.5" stroke="#000" stroke-opacity="0.5" stroke-width="1.0"/>
<circle cx="504.90" cy="134.45" r="4.90" fill="#FFD92F" fill-opacity="0.5" stroke="#000" stroke-opacity="0.5" stroke-width="1.0"/>
<circle cx="513.00" cy="134.45" r="4.90" fill="#FFD92F" fill-opacity="0.5" stroke="#000" stroke-opacity="0.5" stroke-width="1.0"/>
<circle cx="511.20" cy="147.64" r="4.90" fill="#FFD92F" fill-opacity="0.5" stroke="#000" stroke-opacity="0.5" stroke-width="1.0"/>
<polygon points="526.30,394.98 532.90,406.41 519.70,406.41" fill="#E5C494" fill-opacity="0.5" stroke="#000" stroke-opacity="0.5" stroke-width="1.0"/>
<polygon points="529.90,394.98 536.50,406.41 523.30,406.41" fill="#E5C494" fill-opacity="0.5" stroke="#000" stroke-opacity="0.5" stroke-width="1.0"/>
<polygon points="533.20,394.98 539.80,406.41 526.60,406.41" fill="#E5C494" fill-opacity="0.5" stroke="#000" stroke-opacity="0.5" stroke-width="1.0"/>
<polygon points="524.90,399.38 531.50,410.81 518.30,410.81" fill="#E5C494" fill-opacity="0.5" stroke="#000" stroke-opacity="0.5" stroke-width="1.0"/>
<polygon points="536.00,399.38 542.60,410.81 529.40,410.81" fill="#E5C494" fill-opacity="0.5" stroke="#000" stroke-opacity="0.5" stroke-width="1.0"/>
<polygon points="530.50,399.38 537.10,410.81 523.90,410.81" fill="#E5C494" fill-opacity="0.5" stroke="#000" stroke-opacity="0.5" stroke-width="1.0"/>
<polygon points="528.00,399.38 534.60,410.81 521.40,410.81" fill="#E5C494" fill-opacity="0.5" stroke="#000" stroke-opacity="0.5" stroke-width="1.0"/>
<polygon points="535.50,399.38 542.10,410.81 528.90,410.81" fill="#E5C494" fill-opacity="0.5" stroke="#000" stroke-opacity="0.5" stroke-width="1.0"/>
<polygon points="525.20,399.38 531.80,410.81 518.60,410.81" fill="#E5C494" fill-opacity="0.5" stroke="#000" stroke-opacity="0.5" stroke-width="1.0"/>
<polygon points="532.00,399.38 538.60,410.81 525.40,410.81" fill="#E5C494" fill-opacity="0.5" stroke="#000" stroke-opacity="0.5" stroke-width="1.0"/>
<polygon points="529.50,394.98 536.10,406.41 522.90,406.41" fill="#E5C494" fill-opacity="0.5" stroke="#000" stroke-opacity="0.5" stroke-width="1.0"/>
<polygon points="533.00,399.38 539.60,410.81 526.40,410.81" fill="#E5C494" fill-opacity="0.5" stroke="#000" stroke-opacity="0.5" stroke-width="1.0"/>
</svg></body></html>
